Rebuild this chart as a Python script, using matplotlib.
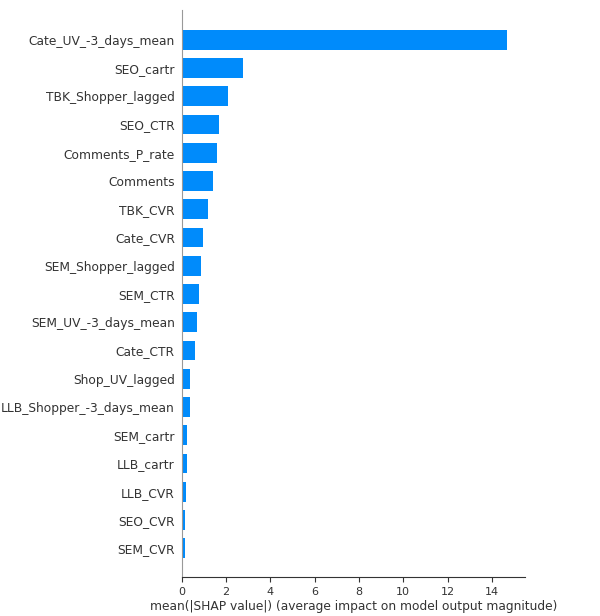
import matplotlib
matplotlib.use("Agg")
import matplotlib.pyplot as plt

features = ["Cate_UV_-3_days_mean", "SEO_cartr", "TBK_Shopper_lagged", "SEO_CTR",
            "Comments_P_rate", "Comments", "TBK_CVR", "Cate_CVR", "SEM_Shopper_lagged",
            "SEM_CTR", "SEM_UV_-3_days_mean", "Cate_CTR", "Shop_UV_lagged",
            "LLB_Shopper_-3_days_mean", "SEM_cartr", "LLB_cartr", "LLB_CVR", "SEO_CVR", "SEM_CVR"]
values = [14.7, 2.76, 2.08, 1.67, 1.58, 1.40, 1.18, 0.95, 0.86, 0.77, 0.68, 0.59,
          0.36, 0.36, 0.23, 0.23, 0.18, 0.14, 0.13]
xticks = [0, 2, 4, 6, 8, 10, 12, 14]

fig = plt.figure(figsize=(6.0, 6.16), dpi=100)
ax = fig.add_axes([0.303, 0.063, 0.572, 0.921])
n = len(features)
pos = list(range(n - 1, -1, -1))
ax.barh(pos, values, height=0.7, color="#008bfb", align="center")
ax.set_yticks(pos)
ax.set_yticklabels(features, fontsize=8.8, color="#333333")
ax.set_ylim(-1.03, n - 1 + 1.06)
ax.set_xlim(0, 15.5)
ax.set_xticks(xticks)
ax.tick_params(axis="x", labelsize=8, colors="#333333")
ax.tick_params(axis="y", length=0, pad=5)
for s in ["top", "right"]:
    ax.spines[s].set_visible(False)
ax.spines["left"].set_color("#999999")
ax.spines["bottom"].set_color("#333333")
ax.set_xlabel("mean(|SHAP value|) (average impact on model output magnitude)", fontsize=8.8, color="#333333", labelpad=2)
fig.savefig("out.png", dpi=100)
